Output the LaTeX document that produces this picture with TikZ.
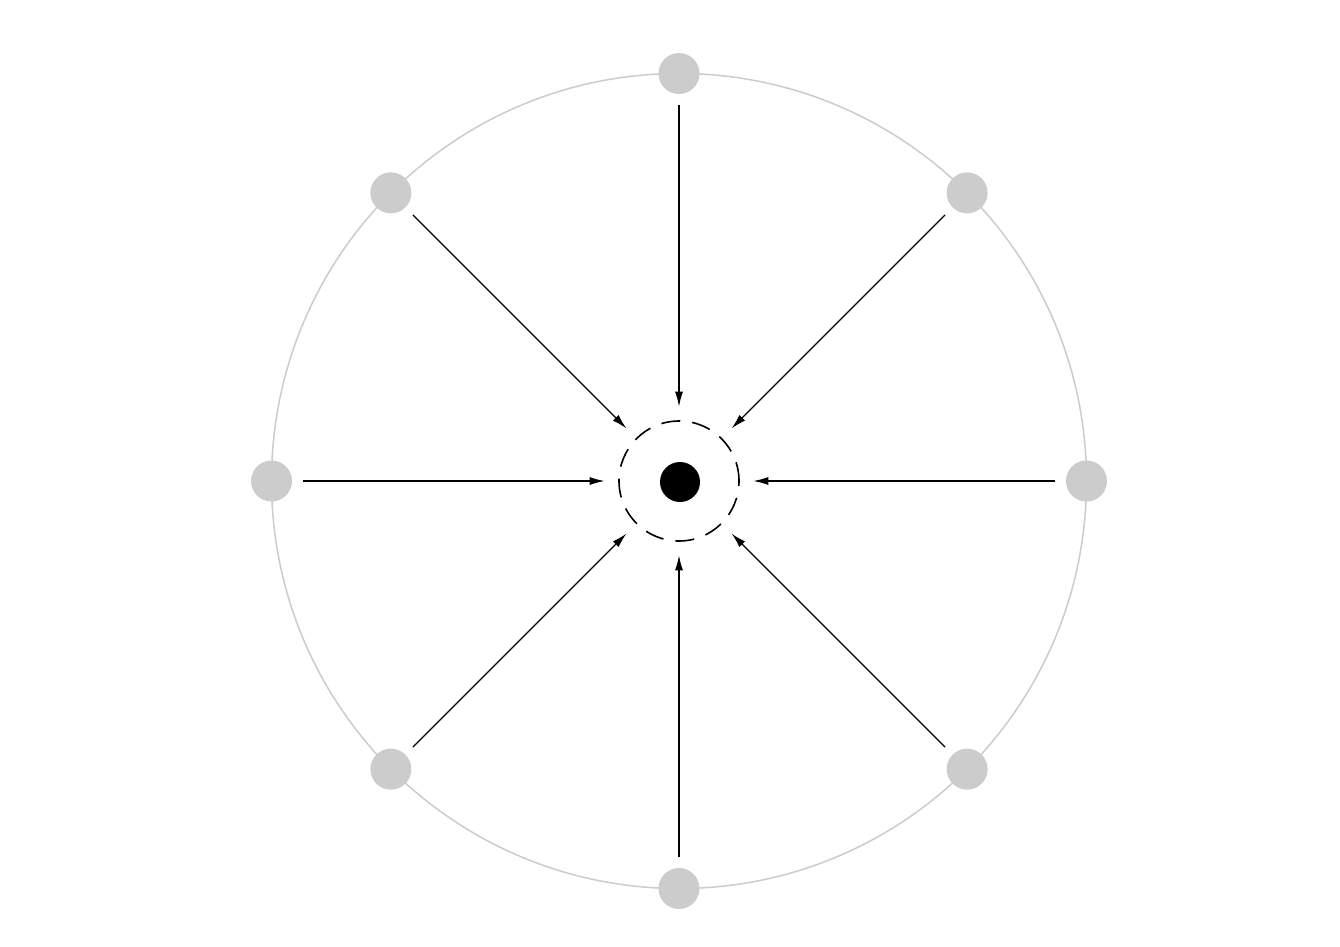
\documentclass[tikz,border=0pt]{standalone}
\usetikzlibrary{arrows.meta,calc}
\definecolor{dotgray}{HTML}{CCCCCC}
\tikzset{
  rimdot/.style={circle,fill=dotgray,draw=none,minimum size=41pt,inner sep=0pt},
  hubdot/.style={circle,fill=black,minimum size=40pt,inner sep=0pt},
  ring/.style={circle,draw=black,dash pattern=on 19pt off 12pt,line width=1.6pt,minimum size=120pt,inner sep=0pt},
  flow/.style={-{Latex[length=15pt,width=8pt]},line width=1.3pt,shorten <=10.5pt,shorten >=13.5pt},
  rim/.style={draw=dotgray,line width=1.5pt}
}
\begin{document}
\begin{tikzpicture}[x=1pt,y=-1pt]
\useasboundingbox (0,0) rectangle (1340,946);
\fill[white] (0,0) rectangle (1340,946);
\coordinate (c) at (679,481);
\draw[rim] (c) circle[radius=407.5pt];
\node[ring] (hub) at (c) {};
\node[hubdot] (core) at (680,482) {};
\foreach \a/\n in {90/t,45/tr,0/r,-45/br,-90/b,-135/bl,180/l,135/tl}{
  \node[rimdot] (\n) at ($(c)+(\a:407.5pt)$) {};
}
\foreach \n in {t,tr,r,br,b,bl,l,tl}{
  \draw[flow] (\n) -- (hub);
}
\end{tikzpicture}
\end{document}
